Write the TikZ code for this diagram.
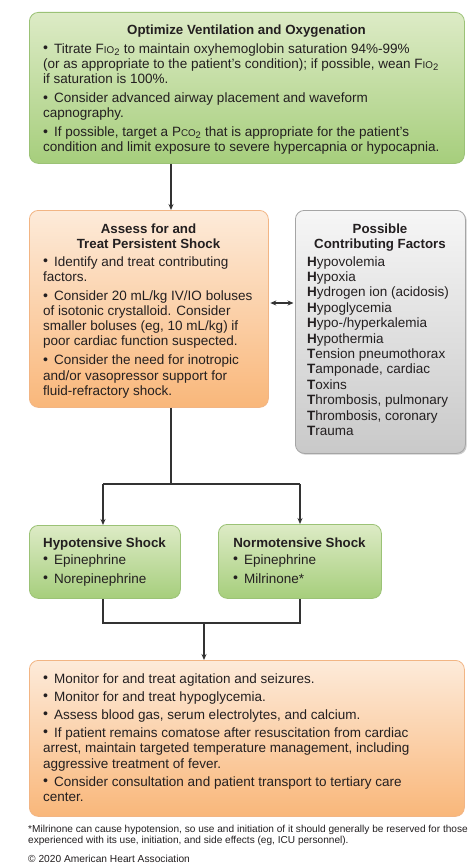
\documentclass[tikz,border=0pt]{standalone}
\usepackage{fontspec}
\setmainfont{Liberation Sans}
\usetikzlibrary{arrows.meta,shadows}
\definecolor{gtop}{HTML}{DDEBC6}
\definecolor{gbot}{HTML}{A6CE7C}
\definecolor{gline}{HTML}{9BC276}
\definecolor{otop}{HTML}{FDEBDA}
\definecolor{obot}{HTML}{F9B77A}
\definecolor{oline}{HTML}{F2B584}
\definecolor{ytop}{HTML}{F6F6F6}
\definecolor{ybot}{HTML}{C9C9C9}
\definecolor{yline}{HTML}{A5A5A5}
\definecolor{ink}{HTML}{231F20}
\definecolor{wirec}{HTML}{333333}

\newcommand{\bitem}[1]{\par\hangindent=11pt\hangafter=1\noindent\makebox[11pt][l]{\raisebox{0.2pt}{\scalebox{1.05}{\textbullet}}}#1}
\newcommand{\sm}[1]{{\fontsize{9.8}{9.8}\selectfont #1}}
\newcommand{\HH}[1]{\textbf{#1}}
\newenvironment{boxtext}[3]{\begin{minipage}[t]{#1}\fontsize{13.5}{#2}\selectfont\setlength{\parskip}{#3}\raggedright}{\end{minipage}}

\begin{document}
\begin{tikzpicture}[x=1pt,y=-1pt, font=\fontsize{13.5}{15}\selectfont, text=ink,
  box/.style={rounded corners=9pt, line width=0.8pt, inner sep=0pt, anchor=north west},
  gbox/.style={box, draw=gline, top color=gtop, bottom color=gbot},
  obox/.style={box, draw=oline, top color=otop, bottom color=obot},
  ybox/.style={box, draw=yline, top color=ytop, bottom color=ybot,
     drop shadow={shadow xshift=1.3pt, shadow yshift=-1.3pt, fill=black!40}},
  txt/.style={inner sep=0pt, anchor=base west},
  ttl/.style={inner sep=0pt, anchor=base, font=\fontsize{13.3}{15}\selectfont\bfseries},
  wire/.style={draw=wirec, line width=1.1pt},
  arr/.style={wire, -{Stealth[length=6pt,width=5pt]}},
  darr/.style={wire, {Stealth[length=6pt,width=5pt]}-{Stealth[length=6pt,width=5pt]}, shorten <=1.5pt, shorten >=1.5pt},
]
\fill[white] (0,0) rectangle (474,867);
\useasboundingbox (0,0) rectangle (474,867);

% boxes
\node[gbox, minimum width=435pt, minimum height=151pt] (opt) at (29,12) {};
\node[obox, minimum width=239pt, minimum height=197pt] (shock) at (29,210) {};
\node[ybox, minimum width=170pt, minimum height=243pt] (hts) at (295,210) {};
\node[gbox, minimum width=151pt, minimum height=73pt] (hypo) at (29,525) {};
\node[gbox, minimum width=163pt, minimum height=74pt] (normo) at (218,524) {};
\node[obox, minimum width=435pt, minimum height=156pt] (post) at (29,660) {};

% top box text
\node[ttl] (optT) at (246.5,35) {Optimize Ventilation and Oxygenation};
\node[txt] (optB) at (43,53) {\begin{boxtext}{420pt}{15.3pt}{3.5pt}%
\bitem{Titrate F\sm{IO}\textsubscript{2} to maintain oxyhemoglobin saturation 94\%-99\%\\(or as appropriate to the patient's condition); if possible, wean F\sm{IO}\textsubscript{2}\\if saturation is 100\%.}
\bitem{Consider advanced airway placement and waveform\\capnography.}
\bitem{If possible, target a P\sm{CO}\textsubscript{2} that is appropriate for the patient's\\condition and limit exposure to severe hypercapnia or hypocapnia.}
\end{boxtext}};

% shock box text
\node[ttl] (shockT1) at (148.5,233) {Assess for and};
\node[ttl] (shockT2) at (148.5,248) {Treat Persistent Shock};
\node[txt] (shockB) at (43,266) {\begin{boxtext}{222pt}{15.2pt}{3.8pt}%
\bitem{Identify and treat contributing\\factors.}
\bitem{Consider 20 mL/kg IV/IO boluses\\of isotonic crystalloid. Consider\\smaller boluses (eg, 10 mL/kg) if\\poor cardiac function suspected.}
\bitem{Consider the need for inotropic\\and/or vasopressor support for\\fluid-refractory shock.}
\end{boxtext}};

% contributing factors
\node[ttl] (htsT1) at (380,233) {Possible};
\node[ttl] (htsT2) at (380,248) {Contributing Factors};
\node[txt] (htsB) at (307,266) {\begin{boxtext}{155pt}{15.4pt}{0pt}%
\HH{H}ypovolemia\\
\HH{H}ypoxia\\
\HH{H}ydrogen ion (acidosis)\\
\HH{H}ypoglycemia\\
\HH{H}ypo-/hyperkalemia\\
\HH{H}ypothermia\\
\HH{T}ension pneumothorax\\
\HH{T}amponade, cardiac\\
\HH{T}oxins\\
\HH{T}hrombosis, pulmonary\\
\HH{T}hrombosis, coronary\\
\HH{T}rauma
\end{boxtext}};

% shock types
\node[ttl] (hypoT) at (104.5,547) {Hypotensive Shock};
\node[txt] (hypoB) at (43,564) {\begin{boxtext}{130pt}{15pt}{4pt}%
\bitem{Epinephrine}
\bitem{Norepinephrine}
\end{boxtext}};
\node[ttl] (normoT) at (299.5,547) {Normotensive Shock};
\node[txt] (normoB) at (233,564) {\begin{boxtext}{140pt}{15pt}{4pt}%
\bitem{Epinephrine}
\bitem{Milrinone*}
\end{boxtext}};

% post box
\node[txt] (postB) at (43,683) {\begin{boxtext}{420pt}{15.5pt}{2.5pt}%
\bitem{Monitor for and treat agitation and seizures.}
\bitem{Monitor for and treat hypoglycemia.}
\bitem{Assess blood gas, serum electrolytes, and calcium.}
\bitem{If patient remains comatose after resuscitation from cardiac\\arrest, maintain targeted temperature management, including\\aggressive treatment of fever.}
\bitem{Consider consultation and patient transport to tertiary care\\center.}
\end{boxtext}};

% footnote
\node[txt] (fn) at (28,832) {\begin{minipage}[t]{450pt}\fontsize{10.1}{11.5}\selectfont\raggedright
*Milrinone can cause hypotension, so use and initiation of it should generally be reserved for those\\experienced with its use, initiation, and side effects (eg, ICU personnel).\end{minipage}};
\node[txt, font=\fontsize{10.2}{11}\selectfont] (copy) at (28,862) {© 2020 American Heart Association};

% connectors
\coordinate (c1) at (171,0);
\coordinate (jy) at (0,484);
\coordinate (hx) at (103,0);
\coordinate (nx) at (300,0);
\coordinate (ky) at (0,623);
\coordinate (c2) at (204,0);
\coordinate (dy) at (0,303);
\draw[arr] (opt.south -| c1) -- (shock.north -| c1);
\draw[wire] (shock.south -| c1) -- (c1 |- jy);
\draw[wire] (hx |- jy) -- (nx |- jy);
\draw[arr] (hx |- jy) -- (hypo.north -| hx);
\draw[arr] (nx |- jy) -- (normo.north -| nx);
\draw[wire] (hypo.south -| hx) -- (hx |- ky) -- (nx |- ky) -- (normo.south -| nx);
\draw[arr] (c2 |- ky) -- (post.north -| c2);
\draw[darr] (shock.east |- dy) -- (hts.west |- dy);
\end{tikzpicture}
\end{document}
